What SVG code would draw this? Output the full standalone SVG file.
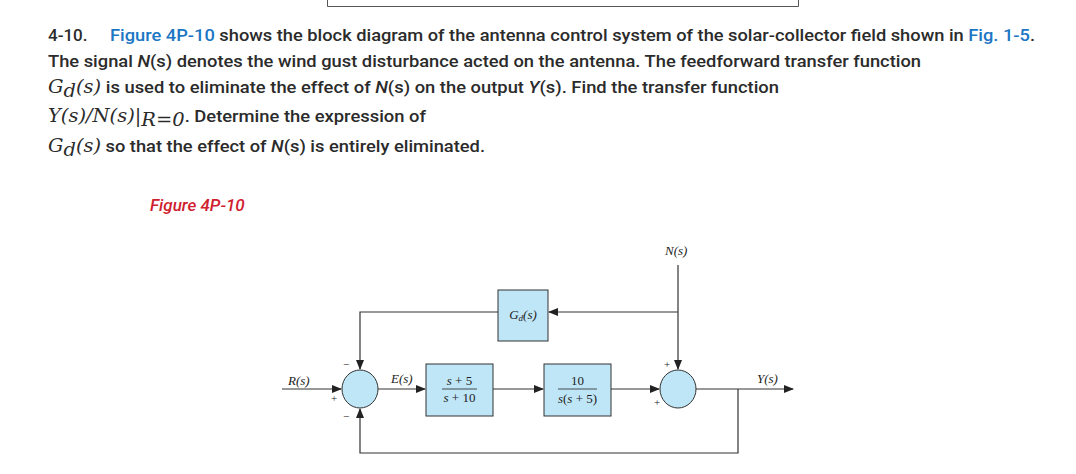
<svg xmlns="http://www.w3.org/2000/svg" width="1076" height="474" viewBox="0 0 1076 474">
<style>
.t{font-family:Roboto,"Liberation Sans",sans-serif;font-size:17px;font-weight:500;fill:#2b2b2b}
.b{fill:#1b76c4}
.m{font-family:"DejaVu Serif","Liberation Serif",serif;font-style:italic;font-weight:normal;font-size:18px}
.d{font-family:"Liberation Serif",serif;font-size:13px;fill:#222}
.blk{fill:#bfe6f7;stroke:#333;stroke-width:1}
.ln{fill:none;stroke:#333;stroke-width:1.2}
</style>
<defs><marker id="a" markerWidth="10" markerHeight="8" refX="9" refY="4" orient="auto" markerUnits="userSpaceOnUse"><path d="M0,0 L10,4 L0,8 Z" fill="#222"/></marker></defs>
<rect width="1076" height="474" fill="#fff"/>
<path d="M327.5,0 V6.5 H798.5 V0" fill="none" stroke="#555" stroke-width="1"/>
<text class="t" x="48" y="41" font-weight="bold">4-10.</text>
<text class="t" x="110" y="41" textLength="925" lengthAdjust="spacingAndGlyphs"><tspan class="b">Figure 4P-10</tspan> shows the block diagram of the antenna control system of the solar-collector field shown in <tspan class="b">Fig. 1-5</tspan>.</text>
<text class="t" x="48" y="67" textLength="873" lengthAdjust="spacingAndGlyphs">The signal <tspan font-style="italic">N</tspan>(s) denotes the wind gust disturbance acted on the antenna. The feedforward transfer function</text>
<text class="t" x="48" y="93" textLength="731" lengthAdjust="spacingAndGlyphs"><tspan class="m">G</tspan><tspan class="m" font-size="11" dy="4">d</tspan><tspan class="m" dy="-4">(s)</tspan> is used to eliminate the effect of <tspan font-style="italic">N</tspan>(s) on the output <tspan font-style="italic">Y</tspan>(s). Find the transfer function</text>
<text class="t" x="48" y="122" textLength="378" lengthAdjust="spacingAndGlyphs"><tspan class="m">Y(s)/N(s)|</tspan><tspan class="m" font-size="12" dy="4">R=0</tspan><tspan dy="-4">. Determine the expression of</tspan></text>
<text class="t" x="48" y="152" textLength="437" lengthAdjust="spacingAndGlyphs"><tspan class="m">G</tspan><tspan class="m" font-size="11" dy="4">d</tspan><tspan class="m" dy="-4">(s)</tspan> so that the effect of <tspan font-style="italic">N</tspan>(s) is entirely eliminated.</text>
<text x="150" y="211" font-family="Roboto,'Liberation Sans',sans-serif" font-size="17" font-weight="500" font-style="italic" fill="#d0202e">Figure 4P-10</text>
<g id="connectors">
<path class="ln" d="M282,389 H341" marker-end="url(#a)"/>
<path class="ln" d="M378,389 H425" marker-end="url(#a)"/>
<path class="ln" d="M493,389 H543" marker-end="url(#a)"/>
<path class="ln" d="M611,389 H659" marker-end="url(#a)"/>
<path class="ln" d="M696,389 H793" marker-end="url(#a)"/>
<path class="ln" d="M678,265 V369" marker-end="url(#a)"/>
<path class="ln" d="M678,312 H549" marker-end="url(#a)"/>
<path class="ln" d="M498,312 H360 V369" marker-end="url(#a)"/>
<path class="ln" d="M738,389 V453 H360 V409" marker-end="url(#a)"/>
</g>
<g id="sum1"><ellipse cx="360" cy="389" rx="18" ry="19" class="blk"/></g>
<g id="sum2"><ellipse cx="678" cy="389" rx="18" ry="19" class="blk"/></g>
<g id="block1"><rect x="426" y="364" width="67" height="52" class="blk"/>
<text class="d" x="459.5" y="385" text-anchor="middle"><tspan font-style="italic">s</tspan> + 5</text>
<line x1="442" y1="389" x2="477" y2="389" stroke="#222" stroke-width="0.8"/>
<text class="d" x="459.5" y="402" text-anchor="middle"><tspan font-style="italic">s</tspan> + 10</text></g>
<g id="block2"><rect x="544" y="364" width="67" height="52" class="blk"/>
<text class="d" x="577.5" y="385" text-anchor="middle">10</text>
<line x1="558" y1="389" x2="597" y2="389" stroke="#222" stroke-width="0.8"/>
<text class="d" x="577.5" y="403" text-anchor="middle"><tspan font-style="italic">s</tspan>(<tspan font-style="italic">s</tspan> + 5)</text></g>
<g id="gd"><rect x="498" y="290" width="50" height="51" class="blk"/>
<text class="d" x="523" y="319" text-anchor="middle" font-style="italic">G<tspan font-size="9" dy="2">d</tspan><tspan dy="-2">(s)</tspan></text></g>
<g class="d">
<text x="288" y="385" font-style="italic">R(s)</text>
<text x="391" y="383" font-style="italic">E(s)</text>
<text x="757" y="383" font-style="italic">Y(s)</text>
<text x="665" y="255" font-style="italic">N(s)</text>
<text x="331" y="402" font-size="11">+</text>
<text x="343" y="368" font-size="11">−</text>
<text x="343" y="420" font-size="11">−</text>
<text x="664" y="368" font-size="11">+</text>
<text x="654" y="406" font-size="11">+</text>
</g>
</svg>
